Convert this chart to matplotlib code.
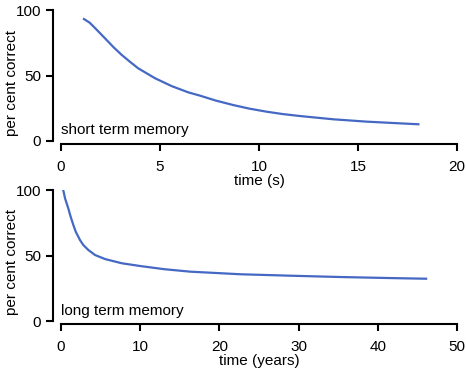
import numpy as np
import matplotlib
matplotlib.use('Agg')
import matplotlib.pyplot as plt

# Values
short_t = [1.16, 1.45, 1.72, 2.22, 2.65, 3.07, 3.5, 3.9, 4.75, 5.59, 6.43,
           7.02, 7.8, 8.7, 9.5, 10.39, 11.2, 12.07, 13.75, 15.44, 17.12, 18.05]
short_pc = [93.3, 90.5, 86.4, 78.6, 71.8, 65.8, 60.4, 55.6, 48.0, 42.0, 37.2,
            34.7, 31.0, 27.5, 24.8, 22.4, 20.6, 19.1, 16.6, 14.8, 13.5, 12.8]

long_t = [0.29, 0.51, 0.93, 1.22, 1.56, 1.86, 2.4, 2.82, 3.46, 4.3, 5.57,
          7.68, 10.0, 13.0, 16.3, 22.7, 29.0, 35.3, 41.6, 46.1]
long_pc = [100, 93.9, 86.0, 79.8, 73.5, 68.4, 62.0, 58.2, 54.4, 50.6, 47.5,
           44.3, 42.2, 39.8, 37.9, 35.9, 34.8, 33.8, 33.0, 32.5]

short_xticks = [0, 5, 10, 15, 20]
long_xticks = [0, 10, 20, 30, 40, 50]
yticks = [0, 50, 100]

line_color = '#4568c4'

plt.rcParams['font.family'] = ['Liberation Sans', 'DejaVu Sans']
plt.rcParams['font.size'] = 11

fig = plt.figure(figsize=(4.66, 3.73), dpi=100)
ax1 = fig.add_axes([0.1309, 0.622, 0.8498, 0.3504])
ax2 = fig.add_axes([0.1309, 0.1386, 0.8498, 0.3512])


def style_axis(ax, xticks, xlabel, note, ylab_y):
    ax.set_xlim(xticks[0], xticks[-1])
    ax.set_ylim(0, 100)
    ax.set_xticks(xticks)
    ax.set_yticks(yticks)
    for side in ['top', 'right']:
        ax.spines[side].set_visible(False)
    ax.spines['left'].set_position(('outward', 5.8))
    ax.spines['bottom'].set_position(('outward', 2.2))
    for side in ['left', 'bottom']:
        ax.spines[side].set_linewidth(1.5)
    ax.spines['bottom'].set_bounds(xticks[0], xticks[-1])
    ax.spines['left'].set_bounds(0, 100)
    ax.tick_params(direction='out', length=5, width=1.5)
    ax.tick_params(axis='x', pad=6.5)
    ax.tick_params(axis='y', pad=3.5)
    ax.set_xlabel(xlabel, labelpad=0)
    ax.set_ylabel('per cent correct')
    ax.yaxis.set_label_coords(-0.106, ylab_y)
    ax.text(0, 5, note, ha='left', va='baseline', fontsize=11)


ax1.plot(short_t, short_pc, color=line_color, linewidth=1.6,
         solid_joinstyle='round')
style_axis(ax1, short_xticks, 'time (s)', 'short term memory', 0.44)

ax2.plot(long_t, long_pc, color=line_color, linewidth=1.6,
         solid_joinstyle='round')
style_axis(ax2, long_xticks, 'time (years)', 'long term memory', 0.453)

plt.savefig('out.png', dpi=100)
